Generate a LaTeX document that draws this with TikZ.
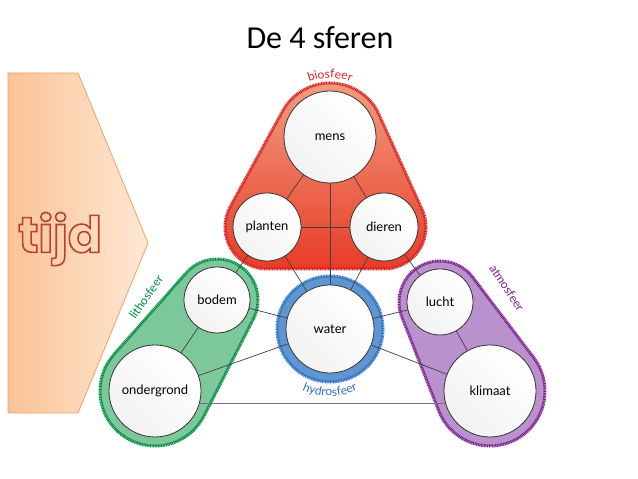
\documentclass[tikz,border=0pt]{standalone}
\usepackage{fontspec}
\setmainfont{Lato}
\newfontfamily\titlefont{Carlito}
\newfontfamily\tijdfont{Poppins}
\usetikzlibrary{decorations.text,calc}
\definecolor{bioA}{RGB}{242,160,130}
\definecolor{bioB}{RGB}{232,60,40}
\definecolor{bioE}{RGB}{215,35,35}
\definecolor{litF}{RGB}{125,200,155}
\definecolor{litE}{RGB}{0,140,65}
\definecolor{atmF}{RGB}{185,145,205}
\definecolor{atmE}{RGB}{125,30,140}
\definecolor{hydF}{RGB}{95,150,210}
\definecolor{hydE}{RGB}{45,115,195}
\definecolor{arrA}{RGB}{254,232,212}
\definecolor{arrB}{RGB}{250,195,150}
\definecolor{arrE}{RGB}{240,160,100}
\definecolor{tijdC}{RGB}{185,65,50}
\begin{document}
\begin{tikzpicture}[x=1pt,y=1pt,
  ball/.style={circle,draw=black!80,line width=0.8pt,left color=white,right color=black!5,shading angle=-45,font=\fontsize{13}{15}\selectfont,inner sep=0pt},
  link/.style={draw=black!75,line width=0.7pt},
  sphere/.style={line width=3pt,dash pattern=on 1pt off 0.6pt}]
\useasboundingbox (0,0) rectangle (638,479);
\node[font=\titlefont\fontsize{32}{36}\selectfont] (title) at (320,441) {De 4 sferen};
% tijd arrow
\path[draw=arrE,line width=0.8pt,left color=arrB,right color=arrA] (8,406) -- (78,406) -- (148,236) -- (78,66) -- (8,66) -- cycle;
\node[font=\tijdfont\bfseries\fontsize{50}{54}\selectfont,text=arrA] (tijd) at (60,240) {\special{pdf:literal direct 1 Tr 1.6 w}\textcolor{tijdC}{tijd}\special{pdf:literal direct 0 Tr}};
% coordinates
\coordinate (M) at (330,342);
\coordinate (P) at (267,252);
\coordinate (D) at (384,252);
\coordinate (W) at (330,150);
\coordinate (B) at (217,179);
\coordinate (O) at (155,88);
\coordinate (L) at (440,177);
\coordinate (K) at (490,88);
% biosfeer
\path[sphere,draw=bioE,top color=bioA,bottom color=bioB]
 ($(M)+(28.7:54)$) arc[start angle=28.7,end angle=151.3,radius=54]
 -- ($(P)+(151.3:42)$) arc[start angle=151.3,end angle=270,radius=42]
 -- ($(D)+(270:42)$) arc[start angle=-90,end angle=28.7,radius=42] -- cycle;
% lithosfeer
\path[sphere,draw=litE,fill=litF]
 ($(B)+(-27:41)$) arc[start angle=-27,end angle=138.4,radius=41]
 -- ($(O)+(138.4:55)$) arc[start angle=138.4,end angle=333,radius=55] -- cycle;
% atmosfeer
\path[sphere,draw=atmE,fill=atmF]
 ($(L)+(37.2:41)$) arc[start angle=37.2,end angle=201.4,radius=41]
 -- ($(K)+(201.4:55)$) arc[start angle=201.4,end angle=397.2,radius=55] -- cycle;
% hydrosfeer ring
\path[sphere,draw=hydE,fill=hydF] (W) circle[radius=53];
% labels
\path[decorate,decoration={text along path,text={|\fontsize{12}{14}\selectfont|biosfeer},text align=center,text color=bioE}] ($(M)+(125:59)$) arc[start angle=125,end angle=55,radius=59];
\path[decorate,decoration={text along path,text={|\fontsize{12}{14}\selectfont|hydrosfeer},text align=center,text color=hydE}] ($(W)+(232:67)$) arc[start angle=232,end angle=308,radius=67];
\node[rotate=55,text=litE,font=\fontsize{12}{14}\selectfont] (litlab) at (146,182) {lithosfeer};
\node[rotate=-57,text=atmE,font=\fontsize{12}{14}\selectfont] (atmlab) at (507,191) {atmosfeer};
% nodes
\node[ball,minimum size=92pt] (mens) at (M) {mens};
\node[ball,minimum size=68pt] (planten) at (P) {planten};
\node[ball,minimum size=68pt] (dieren) at (D) {dieren};
\node[ball,minimum size=88pt] (water) at (W) {water};
\node[ball,minimum size=66pt] (bodem) at (B) {bodem};
\node[ball,minimum size=92pt] (ondergrond) at (O) {ondergrond};
\node[ball,minimum size=66pt] (lucht) at (L) {lucht};
\node[ball,minimum size=92pt] (klimaat) at (K) {klimaat};
% links
\draw[link] (mens) -- (planten);
\draw[link] (mens) -- (dieren);
\draw[link] (mens) -- (water);
\draw[link] (planten) -- (dieren);
\draw[link] (planten) -- (water);
\draw[link] (dieren) -- (water);
\draw[link] (planten) -- (bodem);
\draw[link] (dieren) -- (lucht);
\draw[link] (bodem) -- (water);
\draw[link] (water) -- (lucht);
\draw[link] (water) -- (ondergrond);
\draw[link] (water) -- (klimaat);
\draw[link] (bodem) -- (ondergrond);
\draw[link] (lucht) -- (klimaat);
\draw[link,draw=black!55] (ondergrond.-15) -- (klimaat.195);
\end{tikzpicture}
\end{document}
